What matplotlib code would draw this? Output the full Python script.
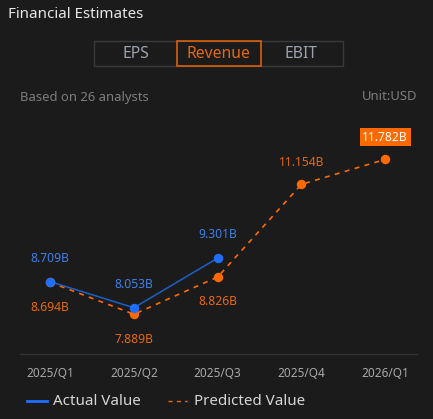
import matplotlib
matplotlib.use("Agg")
import matplotlib.pyplot as plt
from matplotlib.patches import Rectangle
import numpy as np

quarters = ['2025/Q1', '2025/Q2', '2025/Q3', '2025/Q4', '2026/Q1']
actual = [8.709, 8.053, 9.301]
predicted = [8.694, 7.889, 8.826, 11.154, 11.782]
tabs = ['EPS', 'Revenue', 'EBIT']
title = 'Financial Estimates'
subtitle = 'Based on 26 analysts'
unit = 'Unit:USD'

W, H = 433, 419
BG = '#1b1b1b'
BLUE = '#1f6fff'
BLUE_TXT = '#3f80e6'
ORANGE = '#ff6a00'
ORANGE_TXT = '#e8680c'
FONT = 'Noto Sans'

plt.rcParams['font.family'] = [FONT, 'DejaVu Sans']

fig = plt.figure(figsize=(W / 100, H / 100), dpi=100, facecolor=BG)

def fx(x):
    return x / W

def fy(y):
    return 1 - y / H

# header
fig.text(fx(8), fy(15), title, color='#e6e6e6', fontsize=10.9, va='center', ha='left')

# tab bar
fig.patches.append(Rectangle((fx(94), fy(66.5)), fx(343) - fx(94), fy(41) - fy(66.5),
                             transform=fig.transFigure, facecolor='none',
                             edgecolor='#3a3a3a', linewidth=1.0))
fig.patches.append(Rectangle((fx(177), fy(66.5)), fx(260.5) - fx(177), fy(41) - fy(66.5),
                             transform=fig.transFigure, facecolor='none',
                             edgecolor='#d9600a', linewidth=1.2, zorder=3))
tab_x = [136, 218.5, 301]
for t, x in zip(tabs, tab_x):
    col = ORANGE_TXT if t == 'Revenue' else '#9aa3ad'
    fig.text(fx(x), fy(53.5), t, color=col, fontsize=11.3, ha='center', va='center')

fig.text(fx(20), fy(97), subtitle, color='#7d7d7d', fontsize=9.4, ha='left', va='center')
fig.text(fx(417), fy(97), unit, color='#7d7d7d', fontsize=9.4, ha='right', va='center')

# plot area
top_px, bot_px = 140, 354
ax = fig.add_axes([fx(20), fy(bot_px), fx(417) - fx(20), fy(top_px) - fy(bot_px)])
ax.set_facecolor('none')
ax.set_xlim(-0.36, 4.38)
ax.set_ylim(6.89, 12.27)
for s in ['top', 'right', 'left']:
    ax.spines[s].set_visible(False)
ax.spines['bottom'].set_color('#333333')
ax.spines['bottom'].set_linewidth(1.0)
ax.set_yticks([])
x = np.arange(len(quarters))
ax.set_xticks(x)
ax.set_xticklabels(quarters, color='#a8a8a8', fontsize=8.5)
ax.tick_params(axis='x', length=0, pad=9)

xa = x[:len(actual)]
ax.plot(x, predicted, color=ORANGE, linestyle=(0, (3, 3.2)), linewidth=1.2,
        marker='o', markersize=6.8, markeredgewidth=0, zorder=2)
ax.plot(xa, actual, color='#1d5fc8', linewidth=1.1, zorder=3)
ax.plot(xa, actual, color=BLUE, linestyle='none', marker='o', markersize=6.8,
        markeredgewidth=0, zorder=4)

for xi, v in zip(xa, actual):
    ax.annotate(f'{v:.3f}B', (xi, v), xytext=(0, 17), textcoords='offset points',
                ha='center', va='center', color=BLUE_TXT, fontsize=8.7)

n_act = len(actual)
for i, v in enumerate(predicted):
    if i < n_act:
        ax.annotate(f'{v:.3f}B', (x[i], v), xytext=(0, -18), textcoords='offset points',
                    ha='center', va='center', color=ORANGE_TXT, fontsize=8.7)
    elif i == len(predicted) - 1:
        ax.annotate(f'{v:.3f}B', (x[i], v), xytext=(0, 16), textcoords='offset points',
                    ha='center', va='center', color='white', fontsize=8.7,
                    bbox=dict(boxstyle='square,pad=0.22', facecolor=ORANGE, edgecolor='none'))
    else:
        ax.annotate(f'{v:.3f}B', (x[i], v), xytext=(0, 16), textcoords='offset points',
                    ha='center', va='center', color=ORANGE_TXT, fontsize=8.7)

# legend
lax = fig.add_axes([0, 0, 1, 1], facecolor='none')
lax.set_xlim(0, W)
lax.set_ylim(H, 0)
lax.axis('off')
lax.plot([27, 47], [401, 401], color=BLUE, linewidth=2)
lax.text(53, 401, 'Actual Value', color='#d6d6d6', fontsize=10.9, va='center', ha='left')
lax.plot([168, 187], [401, 401], color=ORANGE_TXT, linewidth=1, linestyle=(0, (3, 3)))
lax.text(194, 401, 'Predicted Value', color='#d6d6d6', fontsize=10.9, va='center', ha='left')

fig.savefig('out.png', dpi=100, facecolor=BG)
